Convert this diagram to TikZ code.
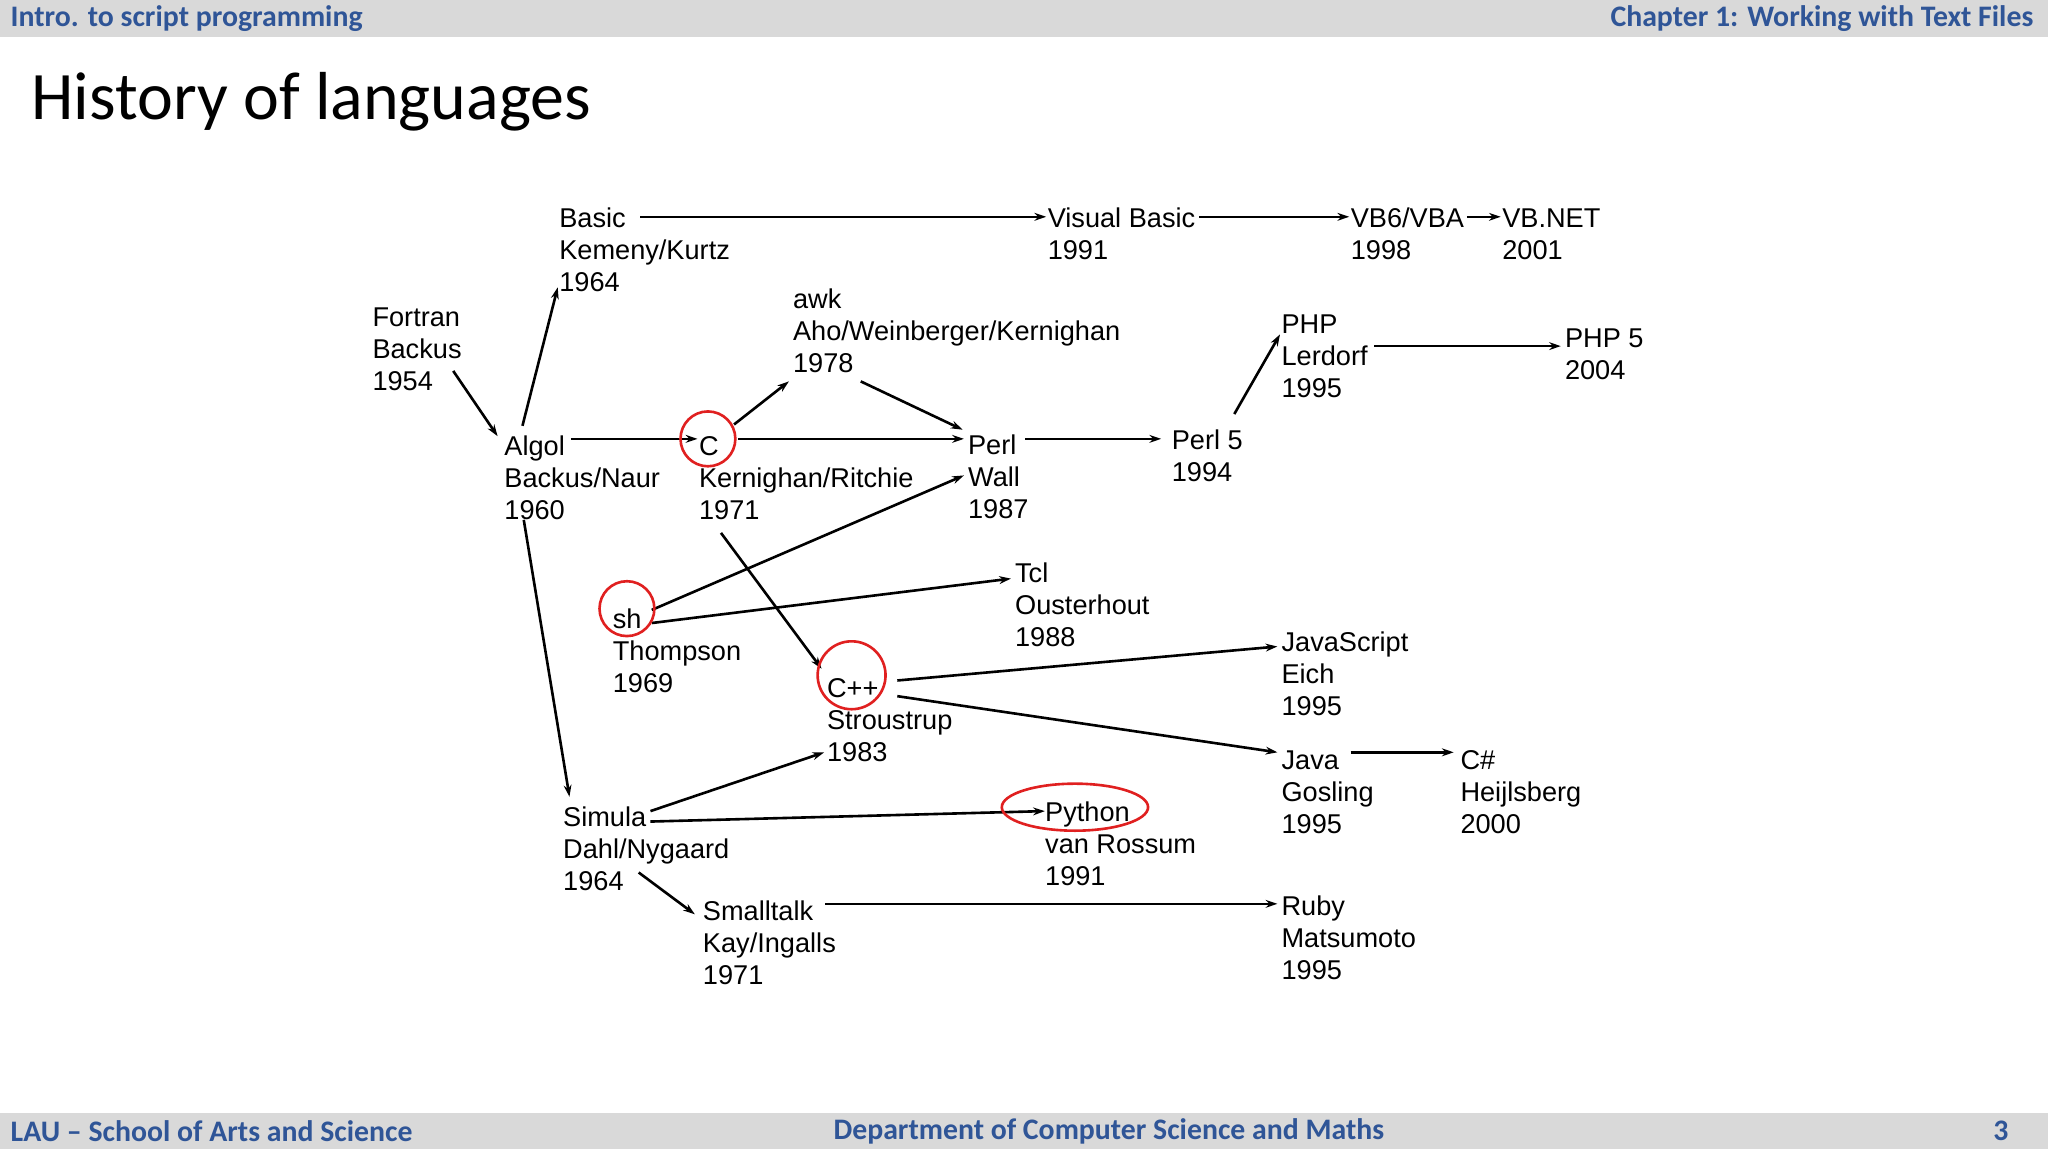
\documentclass[tikz,border=0pt]{standalone}
\usepackage{fontspec}
\setmainfont{Liberation Sans}
\newfontfamily\calfont{Carlito}
\usetikzlibrary{arrows.meta}
\definecolor{hdr}{HTML}{D9D9D9}
\definecolor{hblue}{HTML}{2F5597}
\definecolor{cred}{HTML}{E02020}
\newcommand\lbl[4]{\node[txt] (#1) at (#2,#3) {#4};}
\begin{document}
\begin{tikzpicture}[x=1pt,y=-1pt,
  txt/.style={anchor=base west,inner sep=0pt,font=\fontsize{20.8}{24}\selectfont},
  hf/.style={inner sep=0,text=hblue,font=\calfont\bfseries\fontsize{22.8}{26}\selectfont},
  arr/.style={-{Stealth[length=9pt,width=6pt]},line width=2pt},
  ring/.style={draw=cred,line width=2pt}]
\useasboundingbox (0,0) rectangle (1568,882);
\fill[hdr] (0,0) rectangle (1568,28);
\fill[hdr] (0,852) rectangle (1568,880);
\node[hf,anchor=west] (h1) at (8,14) {Intro. to script programming};
\node[hf,anchor=east] (h2) at (1557,14) {Chapter 1: Working with Text Files};
\node[hf,anchor=west] (f1) at (8,866) {LAU – School of Arts and Science};
\node[hf,anchor=center] (f2) at (849,866) {Department of Computer Science and Maths};
\node[hf,anchor=east] (f3) at (1538,866) {3};
\node[anchor=west,inner sep=0,font=\calfont\fontsize{52}{60}\selectfont] (title) at (24,78) {History of languages};
\lbl{basic}{428}{174}{Basic}\lbl{b2}{428}{198.5}{Kemeny/Kurtz}\lbl{b3}{428}{223}{1964}
\lbl{vb}{802}{174}{Visual Basic}\lbl{vb2}{802}{198.5}{1991}
\lbl{vb6}{1034}{174}{VB6/VBA}\lbl{vb62}{1034}{198.5}{1998}
\lbl{vbn}{1150}{174}{VB.NET}\lbl{vbn2}{1150}{198.5}{2001}
\lbl{fortran}{285}{250}{Fortran}\lbl{f2b}{285}{274.5}{Backus}\lbl{f3b}{285}{299}{1954}
\lbl{awk}{607}{236}{awk}\lbl{a2}{607}{260.5}{Aho/Weinberger/Kernighan}\lbl{a3}{607}{285}{1978}
\lbl{php}{981}{255}{PHP}\lbl{p2}{981}{279.5}{Lerdorf}\lbl{p3}{981}{304}{1995}
\lbl{php5}{1198}{266}{PHP 5}\lbl{p52}{1198}{290.5}{2004}
\lbl{algol}{386}{349}{Algol}\lbl{al2}{386}{373.5}{Backus/Naur}\lbl{al3}{386}{398}{1960}
\lbl{c}{535}{349}{C}\lbl{c2}{535}{373.5}{Kernighan/Ritchie}\lbl{c3}{535}{398}{1971}
\lbl{perl}{741}{348}{Perl}\lbl{pe2}{741}{372.5}{Wall}\lbl{pe3}{741}{397}{1987}
\lbl{perl5}{897}{344}{Perl 5}\lbl{pf2}{897}{368.5}{1994}
\lbl{tcl}{777}{446}{Tcl}\lbl{t2}{777}{470.5}{Ousterhout}\lbl{t3}{777}{495}{1988}
\lbl{sh}{469}{481}{sh}\lbl{s2}{469}{505.5}{Thompson}\lbl{s3}{469}{530}{1969}
\lbl{js}{981}{499}{JavaScript}\lbl{j2}{981}{523.5}{Eich}\lbl{j3}{981}{548}{1995}
\lbl{cpp}{633}{534}{C++}\lbl{cp2}{633}{558.5}{Stroustrup}\lbl{cp3}{633}{583}{1983}
\lbl{java}{981}{589}{Java}\lbl{ja2}{981}{613.5}{Gosling}\lbl{ja3}{981}{638}{1995}
\lbl{cs}{1118}{589}{C\#}\lbl{cs2}{1118}{613.5}{Heijlsberg}\lbl{cs3}{1118}{638}{2000}
\lbl{simula}{431}{633}{Simula}\lbl{si2}{431}{657.5}{Dahl/Nygaard}\lbl{si3}{431}{682}{1964}
\lbl{python}{800}{629}{Python}\lbl{py2}{800}{653.5}{van Rossum}\lbl{py3}{800}{678}{1991}
\lbl{st}{538}{705}{Smalltalk}\lbl{st2}{538}{729.5}{Kay/Ingalls}\lbl{st3}{538}{754}{1971}
\lbl{ruby}{981}{701}{Ruby}\lbl{r2}{981}{725.5}{Matsumoto}\lbl{r3}{981}{750}{1995}
\draw[arr] (490,166) -- (801,166);
\draw[arr] (918,166) -- (1033,166);
\draw[arr] (1123,166) -- (1149,166);
\draw[arr] (347,284) -- (381,334);
\draw[arr] (400,326) -- (427,220);
\draw[arr] (437,336) -- (534,336);
\draw[arr] (562,325) -- (604,292);
\draw[arr] (565,336) -- (738,336);
\draw[arr] (659,292) -- (737,329);
\draw[arr] (785,336) -- (889,336);
\draw[arr] (945,317) -- (980,256);
\draw[arr] (1052,265) -- (1195,265);
\draw[arr] (499,467) -- (738,364);
\draw[arr] (499,477) -- (774,443);
\draw[arr] (552,408) -- (629,512);
\draw[arr] (401,398) -- (436,610);
\draw[arr] (687,521) -- (978,495);
\draw[arr] (687,533) -- (978,576);
\draw[arr] (1034,576) -- (1113,576);
\draw[arr] (498,621) -- (631,576);
\draw[arr] (498,629) -- (800,621);
\draw[arr] (489,668) -- (532,700);
\draw[arr] (632,692) -- (978,692);
\draw[ring] (542,336) circle (21);
\draw[ring] (480,466) circle (21);
\draw[ring] (652,517) circle (26);
\draw[ring] (823,618) ellipse (56 and 18);
\end{tikzpicture}
\end{document}
